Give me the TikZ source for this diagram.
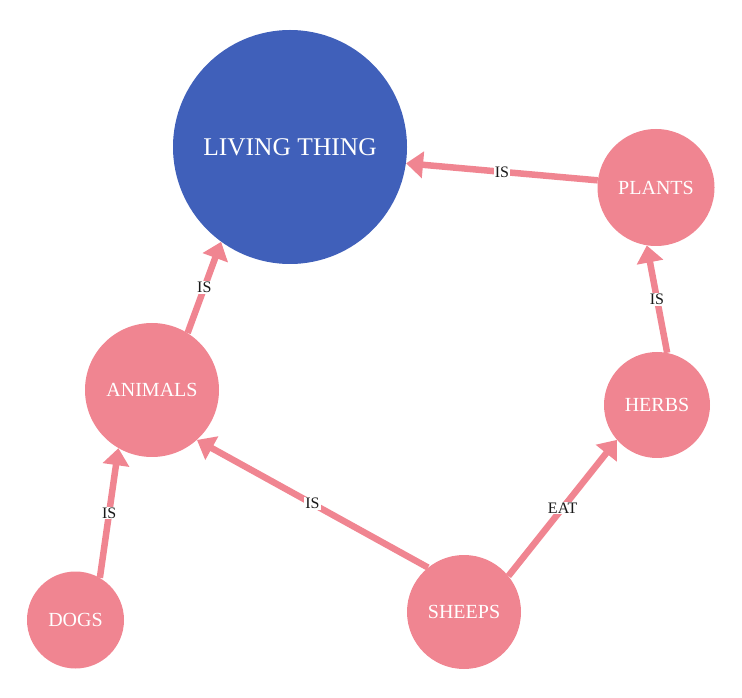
\documentclass[tikz,border=0pt]{standalone}
\usepackage{fontspec}
\setmainfont{Liberation Serif}
\usetikzlibrary{arrows.meta}
\definecolor{rosy}{RGB}{240,133,145}
\definecolor{deepblue}{RGB}{64,96,186}
\begin{document}
\begin{tikzpicture}
	[x=1pt,y=1pt,
	concept/.style={circle,fill=rosy,text=white,inner sep=0pt,font=\fontsize{20}{20}\selectfont},
	root/.style={circle,fill=deepblue,text=white,inner sep=0pt,minimum size=234pt,font=\fontsize{25.5}{25.5}\selectfont},
	link/.style={draw=rosy,line width=6.5pt,-{Triangle[length=17pt,width=26pt]}},
	lbl/.style={fill=white,inner sep=1pt,text=black!90,font=\fontsize{16}{16}\selectfont}]
    \useasboundingbox (0,0) rectangle (742,697);
    \node[root] at (290,550) (living) {LIVING THING};
    \node[concept,minimum size=117pt] at (656,509.5) (plants) {PLANTS};
    \node[concept,minimum size=106pt] at (657,292) (herbs) {HERBS};
    \node[concept,minimum size=134pt] at (152,307) (animals) {ANIMALS};
    \node[concept,minimum size=97pt] at (75.5,77) (dogs) {DOGS};
    \node[concept,minimum size=114pt] at (464,85) (sheeps) {SHEEPS};
    \draw[link] (plants.173) -- node[lbl] {IS} (living.-8);
    \draw[link] (animals.58) -- node[lbl] {IS} (living.234);
    \draw[link] (herbs.79) -- node[lbl] {IS} (plants.261);
    \draw[link] (dogs.60) -- node[lbl] {IS} (animals.240);
    \draw[link] (sheeps.129) -- node[lbl] {IS} (animals.-48);
    \draw[link] (sheeps.39) -- node[lbl] {EAT} (herbs.221);
\end{tikzpicture}
\end{document}
